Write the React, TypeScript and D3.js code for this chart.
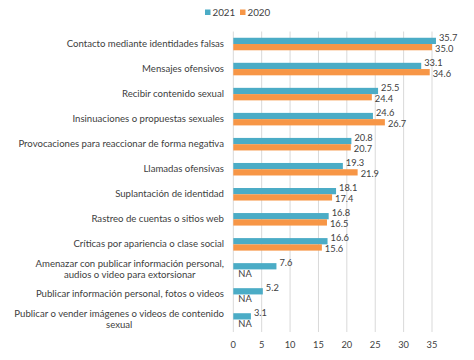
import React, { useEffect, useRef } from "react";
import * as d3 from "d3";

const categories: string[][] = [
  ["Contacto mediante identidades falsas"],
  ["Mensajes ofensivos"],
  ["Recibir contenido sexual"],
  ["Insinuaciones o propuestas sexuales"],
  ["Provocaciones para reaccionar de forma negativa"],
  ["Llamadas ofensivas"],
  ["Suplantación de identidad"],
  ["Rastreo de cuentas o sitios web"],
  ["Críticas por apariencia o clase social"],
  ["Amenazar con publicar información personal,", "audios o video para extorsionar"],
  ["Publicar información personal, fotos o videos"],
  ["Publicar o vender imágenes o videos de contenido", "sexual"],
];
const values2021: (number | null)[] = [35.7, 33.1, 25.5, 24.6, 20.8, 19.3, 18.1, 16.8, 16.6, 7.6, 5.2, 3.1];
const values2020: (number | null)[] = [35.0, 34.6, 24.4, 26.7, 20.7, 21.9, 17.4, 16.5, 15.6, null, null, null];
const seriesNames = ["2021", "2020"];
const xTicks = [0, 5, 10, 15, 20, 25, 30, 35];

const COLORS = ["#4BACC6", "#F79646"];
const TEXT = "#404040";
const FONT = "Lato, 'Open Sans', sans-serif";

export default function App() {
  const ref = useRef<SVGSVGElement>(null);
  useEffect(() => {
    const svg = d3.select(ref.current);
    svg.selectAll("*").remove();
    const x = d3.scaleLinear().domain([0, 35]).range([233.3, 432]);
    const idx = categories.map((_, i) => String(i));
    const y = d3.scaleBand().domain(idx).range([31.5, 332]).paddingInner(0.5).paddingOuter(0.25);
    const sub = d3.scaleBand().domain(seriesNames).range([0, y.bandwidth()]);

    // gridlines
    svg.append("g").selectAll("line").data(xTicks).join("line")
      .attr("x1", (d) => x(d)).attr("x2", (d) => x(d))
      .attr("y1", 31.5).attr("y2", 332)
      .attr("stroke", "#D9D9D9").attr("stroke-width", 1);

    // tick labels
    svg.append("g").selectAll("text").data(xTicks).join("text")
      .attr("x", (d) => x(d)).attr("y", 348)
      .attr("text-anchor", "middle")
      .attr("font-family", FONT).attr("font-size", 9.3).attr("fill", TEXT)
      .text((d) => String(d));

    const series = [values2021, values2020];
    series.forEach((vals, s) => {
      const g = svg.append("g");
      vals.forEach((v, i) => {
        const yy = (y(String(i)) as number) + (sub(seriesNames[s]) as number);
        const h = sub.bandwidth();
        if (v != null) {
          g.append("rect")
            .attr("x", x(0)).attr("y", yy)
            .attr("width", x(v) - x(0)).attr("height", h)
            .attr("fill", COLORS[s]);
        }
        const lx = v != null ? x(v) + 3 : x(0) + 5;
        const ly = s === 0 ? yy + 3 : yy + h + 1.5;
        g.append("text")
          .attr("x", lx).attr("y", ly)
          .attr("font-family", FONT).attr("font-size", 9.3).attr("fill", TEXT)
          .text(v != null ? v.toFixed(1) : "NA");
      });
    });

    // category labels
    const right = 224;
    categories.forEach((lines, i) => {
      const cy = (y(String(i)) as number) + y.bandwidth() / 2;
      const lh = 10.5;
      const t = svg.append("text")
        .attr("font-family", FONT).attr("font-size", 9.6).attr("fill", TEXT)
        .attr("text-anchor", "middle");
      const spans = lines.map((ln, j) =>
        t.append("tspan").attr("x", 0).attr("y", cy + 3 + (j - (lines.length - 1) / 2) * lh).text(ln)
      );
      let w = 0;
      spans.forEach((sp) => {
        const n = sp.node() as SVGTSpanElement;
        w = Math.max(w, n.getComputedTextLength());
      });
      spans.forEach((sp) => sp.attr("x", right - w / 2));
    });

    // legend
    const leg = svg.append("g");
    const lx = [205, 240];
    seriesNames.forEach((nm, s) => {
      leg.append("rect").attr("x", lx[s]).attr("y", 9.5).attr("width", 5.5).attr("height", 5.5).attr("fill", COLORS[s]);
      leg.append("text").attr("x", lx[s] + 7.5).attr("y", 15.5)
        .attr("font-family", FONT).attr("font-size", 9.8).attr("fill", TEXT).text(nm);
    });
  }, []);
  return (
    <svg ref={ref} width={474} height={360} style={{ position: "absolute", left: 0, top: 0, background: "#fff" }} />
  );
}
